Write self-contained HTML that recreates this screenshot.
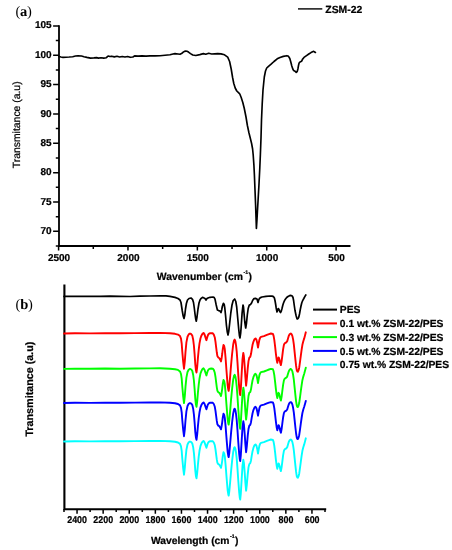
<!DOCTYPE html>
<html><head><meta charset="utf-8"><title>FTIR spectra</title>
<style>
html,body{margin:0;padding:0;background:#fff;}
svg{display:block;}
text{font-family:"Liberation Sans",Arial,sans-serif;font-weight:bold;fill:#000;stroke:#000;stroke-width:0.22px;text-rendering:geometricPrecision;}
.serif{font-family:"Liberation Serif","DejaVu Serif",serif;font-weight:normal;stroke:none;}
.reg{font-weight:normal;}
</style></head><body>
<svg width="452" height="550" viewBox="0 0 452 550">
<rect width="452" height="550" fill="#fff"/>

<g id="chartA">
<text class="serif" x="15.6" y="15.9" font-size="14.5" letter-spacing="-0.35">(<tspan font-weight="bold">a</tspan>)</text>
<path d="M59,25.3 V246 H350.5" fill="none" stroke="#000" stroke-width="1.8"/>
<path d="M59,231.35 h-5.9 M59,202.00 h-5.9 M59,172.65 h-5.9 M59,143.30 h-5.9 M59,113.95 h-5.9 M59,84.60 h-5.9 M59,55.25 h-5.9 M59,25.90 h-5.9 M59,246.03 h-3.2 M59,216.68 h-3.2 M59,187.32 h-3.2 M59,157.98 h-3.2 M59,128.62 h-3.2 M59,99.28 h-3.2 M59,69.92 h-3.2 M59,40.58 h-3.2 M336.10,246 v4.4 M266.73,246 v4.4 M197.35,246 v4.4 M127.97,246 v4.4 M58.60,246 v4.4 M301.41,246 v3 M232.04,246 v3 M162.66,246 v3 M93.29,246 v3 " fill="none" stroke="#000" stroke-width="1.5"/>
<text transform="translate(51.6,233.8) scale(1.0,1)" font-size="10" text-anchor="end">70</text>
<text transform="translate(51.6,204.5) scale(1.0,1)" font-size="10" text-anchor="end">75</text>
<text transform="translate(51.6,175.2) scale(1.0,1)" font-size="10" text-anchor="end">80</text>
<text transform="translate(51.6,145.8) scale(1.0,1)" font-size="10" text-anchor="end">85</text>
<text transform="translate(51.6,116.5) scale(1.0,1)" font-size="10" text-anchor="end">90</text>
<text transform="translate(51.6,87.1) scale(1.0,1)" font-size="10" text-anchor="end">95</text>
<text transform="translate(51.6,57.8) scale(1.0,1)" font-size="10" text-anchor="end">100</text>
<text transform="translate(51.6,28.4) scale(1.0,1)" font-size="10" text-anchor="end">105</text>
<text transform="translate(336.5,260.9) scale(1.0,1)" font-size="10" text-anchor="middle">500</text>
<text transform="translate(267.1,260.9) scale(1.0,1)" font-size="10" text-anchor="middle">1000</text>
<text transform="translate(197.8,260.9) scale(1.0,1)" font-size="10" text-anchor="middle">1500</text>
<text transform="translate(128.4,260.9) scale(1.0,1)" font-size="10" text-anchor="middle">2000</text>
<text transform="translate(59.0,260.9) scale(1.0,1)" font-size="10" text-anchor="middle">2500</text>
<text x="204.4" y="279.9" font-size="10.4" text-anchor="middle">Wavenumber (cm<tspan font-size="5.2" dy="-5.7" dx="0.5">-1</tspan><tspan dy="5.7" dx="0.4">)</tspan></text>
<text class="reg" transform="translate(20.0,124.8) rotate(-90)" font-size="10.4" stroke="#000" stroke-width="0.25" text-anchor="middle">Transmitance (a.u)</text>
<path d="M298,8.9 H322.3" stroke="#000" stroke-width="1.4" fill="none"/>
<text x="325.3" y="12.8" font-size="10.4">ZSM-22</text>
<path d="M59.0,56.5 L61.0,57.0 L63.0,57.4 L66.0,57.2 L69.2,57.0 L72.7,56.7 L75.5,56.0 L78.0,55.7 L81.5,56.0 L84.0,56.7 L86.9,57.4 L90.4,58.1 L93.9,57.9 L96.6,57.6 L98.4,58.1 L101.0,57.7 L103.7,58.1 L106.3,57.7 L107.2,56.8 L108.1,56.0 L109.9,56.5 L111.6,56.2 L114.3,56.9 L117.0,56.3 L119.6,57.0 L122.3,56.5 L124.9,57.0 L127.6,56.5 L130.2,57.3 L132.9,57.0 L134.6,55.9 L138.0,56.1 L142.0,55.9 L146.0,56.1 L150.0,55.9 L155.0,55.9 L160.0,55.7 L165.0,55.3 L170.0,54.8 L173.0,54.0 L175.0,53.6 L178.0,54.0 L180.0,54.3 L181.5,53.6 L183.0,52.3 L184.5,51.4 L185.8,51.1 L187.0,51.3 L188.5,52.1 L190.5,53.6 L192.8,55.0 L195.8,55.5 L199.8,54.6 L203.4,53.6 L205.8,54.2 L208.7,53.3 L211.7,54.0 L217.7,53.6 L221.0,53.9 L224.5,54.8 L227.7,57.2 L229.6,61.5 L231.2,69.0 L232.6,77.5 L233.8,83.5 L235.2,88.0 L236.8,91.0 L238.5,92.6 L239.8,94.0 L241.2,97.5 L242.8,102.5 L244.3,108.5 L246.0,117.0 L247.4,125.5 L249.0,133.0 L250.5,139.0 L251.6,143.5 L252.6,149.0 L253.2,155.0 L253.9,165.0 L254.4,175.0 L255.0,190.0 L255.6,205.0 L256.0,217.0 L256.4,228.5 L256.9,221.0 L257.4,212.0 L258.2,198.0 L259.0,184.0 L259.8,168.0 L260.4,154.0 L261.0,138.0 L261.5,120.0 L262.2,104.0 L263.0,90.0 L264.3,77.0 L265.5,71.0 L266.7,68.0 L268.5,66.3 L271.1,64.2 L274.0,61.5 L277.2,58.8 L280.0,57.5 L283.3,56.4 L286.9,55.7 L288.5,56.3 L289.8,58.5 L290.8,62.0 L291.8,66.0 L292.8,69.0 L293.7,70.6 L295.0,71.2 L296.2,72.3 L297.2,71.5 L297.9,69.0 L298.5,65.5 L299.1,63.0 L300.0,62.0 L301.5,61.3 L302.7,59.0 L304.0,57.4 L306.5,55.6 L308.8,54.0 L311.0,52.6 L313.7,51.3 L315.4,52.5" fill="none" stroke="#000" stroke-width="1.65" stroke-linejoin="round" stroke-linecap="round"/>
</g>
<g id="chartB">
<text class="serif" x="15.6" y="308.5" font-size="14.5" letter-spacing="-0.2">(<tspan font-weight="bold">b</tspan>)</text>
<path d="M64.4,284.5 V509.2 H326.2" fill="none" stroke="#000" stroke-width="2.1"/>
<path d="M311.95,509 v4.8 M285.85,509 v4.8 M259.75,509 v4.8 M233.65,509 v4.8 M207.55,509 v4.8 M181.45,509 v4.8 M155.35,509 v4.8 M129.25,509 v4.8 M103.15,509 v4.8 M77.05,509 v4.8 M325.00,509 v3.1 M298.90,509 v3.1 M272.80,509 v3.1 M246.70,509 v3.1 M220.60,509 v3.1 M194.50,509 v3.1 M168.40,509 v3.1 M142.30,509 v3.1 M116.20,509 v3.1 M90.10,509 v3.1 M64.00,509 v3.1 " fill="none" stroke="#000" stroke-width="1.5"/>
<text transform="translate(312.1,523.2) scale(0.9,1)" font-size="9.9" text-anchor="middle">600</text>
<text transform="translate(286.0,523.2) scale(0.9,1)" font-size="9.9" text-anchor="middle">800</text>
<text transform="translate(259.9,523.2) scale(0.9,1)" font-size="9.9" text-anchor="middle">1000</text>
<text transform="translate(233.8,523.2) scale(0.9,1)" font-size="9.9" text-anchor="middle">1200</text>
<text transform="translate(207.7,523.2) scale(0.9,1)" font-size="9.9" text-anchor="middle">1400</text>
<text transform="translate(181.5,523.2) scale(0.9,1)" font-size="9.9" text-anchor="middle">1600</text>
<text transform="translate(155.5,523.2) scale(0.9,1)" font-size="9.9" text-anchor="middle">1800</text>
<text transform="translate(129.3,523.2) scale(0.9,1)" font-size="9.9" text-anchor="middle">2000</text>
<text transform="translate(103.2,523.2) scale(0.9,1)" font-size="9.9" text-anchor="middle">2200</text>
<text transform="translate(77.1,523.2) scale(0.9,1)" font-size="9.9" text-anchor="middle">2400</text>
<text x="194.7" y="544.1" font-size="10.3" text-anchor="middle">Wavelength (cm<tspan font-size="5.2" dy="-5.7" dx="0.5">-1</tspan><tspan dy="5.7" dx="0.4">)</tspan></text>
<text transform="translate(33.4,389.1) rotate(-90)" font-size="10.75" text-anchor="middle">Transmitance (a.u)</text>
<path d="M64.0,296.4 L80.0,296.3 L100.0,296.4 L110.0,296.1 L120.0,296.3 L130.0,296.5 L140.0,296.2 L150.0,296.0 L160.0,295.8 L166.0,295.9 L170.0,296.4 L175.0,297.4 L178.0,298.5 L180.0,300.0 L181.0,302.5 L182.3,311.0 L183.2,316.0 L184.0,318.5 L184.8,315.0 L185.5,309.0 L186.4,303.5 L187.5,300.0 L189.0,298.5 L191.0,298.0 L192.5,299.3 L193.5,302.5 L194.3,308.0 L195.0,314.0 L195.7,319.0 L196.3,321.2 L197.0,317.0 L198.0,309.0 L199.0,303.0 L200.0,300.0 L201.2,298.3 L202.5,297.3 L205.0,298.5 L206.0,300.0 L207.0,298.6 L208.0,298.0 L210.0,297.3 L213.0,297.0 L214.2,297.6 L215.0,299.2 L216.2,305.0 L217.4,310.0 L218.6,310.6 L220.0,311.0 L221.0,312.5 L221.7,310.0 L222.3,306.5 L223.4,303.3 L224.2,304.5 L224.8,308.0 L225.6,316.0 L226.4,325.0 L227.2,331.5 L228.0,335.0 L228.8,331.0 L229.7,323.0 L230.8,313.0 L232.0,305.0 L233.2,300.5 L234.7,299.0 L235.8,301.5 L236.7,307.0 L237.7,318.0 L238.7,329.0 L239.4,335.5 L240.0,338.0 L240.7,333.0 L241.3,325.0 L242.1,313.0 L243.0,305.0 L243.5,307.0 L244.0,313.0 L244.8,322.0 L245.7,328.0 L246.5,323.0 L247.3,315.0 L248.2,308.5 L249.3,305.0 L250.5,304.6 L251.6,303.0 L252.6,300.5 L254.0,298.6 L255.5,298.4 L257.0,299.0 L258.0,302.5 L258.7,300.0 L259.4,298.5 L260.5,297.6 L262.0,297.0 L266.0,296.4 L270.0,296.0 L272.0,296.1 L273.5,296.6 L274.4,298.0 L275.0,300.5 L275.6,304.0 L276.2,308.0 L277.0,312.0 L277.7,310.3 L278.3,308.5 L278.9,309.3 L279.5,310.8 L280.5,312.6 L281.3,311.0 L282.0,308.5 L282.8,305.3 L283.5,303.0 L284.5,300.6 L285.5,299.0 L286.7,297.5 L288.0,296.5 L289.5,295.7 L291.0,295.4 L292.2,296.0 L293.0,297.5 L293.6,300.5 L294.2,305.0 L295.0,310.5 L296.0,315.2 L296.7,317.8 L297.2,319.0 L298.0,318.6 L298.8,317.0 L299.5,314.0 L300.2,310.0 L301.0,306.0 L301.8,302.8 L302.8,300.3 L303.8,298.5 L304.8,296.6 L305.8,295.0" fill="none" stroke="#000" stroke-width="1.7" stroke-linejoin="round" stroke-linecap="round"/>
<path d="M64.0,333.5 L75.0,333.3 L90.0,333.4 L105.0,333.1 L120.0,333.3 L135.0,333.1 L150.0,333.0 L160.0,332.9 L170.0,333.3 L175.0,333.8 L178.0,334.6 L180.0,336.1 L181.0,338.7 L181.7,343.5 L182.3,351.9 L183.2,362.0 L184.0,368.7 L184.8,361.5 L185.5,351.9 L186.4,342.4 L187.5,336.7 L188.7,334.4 L190.0,333.5 L191.3,334.2 L192.3,335.6 L193.2,339.8 L193.9,345.5 L194.6,354.1 L195.3,364.5 L195.9,370.0 L196.5,372.5 L197.2,366.8 L197.9,358.2 L198.7,349.8 L199.5,343.4 L200.5,338.2 L201.5,335.4 L202.5,333.7 L203.5,332.9 L204.5,334.4 L205.4,337.1 L206.4,340.2 L207.1,337.8 L207.8,335.4 L208.8,333.9 L209.8,333.3 L211.3,333.1 L212.8,333.3 L213.8,334.6 L214.8,337.5 L215.5,341.9 L216.2,347.6 L216.8,352.5 L217.4,356.1 L218.3,357.5 L219.4,358.2 L220.2,359.7 L221.0,361.4 L221.6,358.3 L222.2,354.0 L222.8,348.8 L223.5,344.9 L224.2,346.1 L224.8,349.3 L225.6,358.3 L226.4,369.5 L227.1,378.5 L227.7,385.7 L228.3,389.6 L228.7,390.9 L229.3,386.4 L230.1,377.2 L231.1,364.7 L232.1,354.0 L233.2,344.5 L234.1,340.3 L234.7,339.6 L235.4,341.4 L236.0,345.1 L236.7,351.4 L237.5,362.6 L238.3,375.1 L239.2,387.5 L239.8,393.3 L240.2,395.1 L240.8,389.1 L241.7,372.9 L242.5,359.4 L243.3,352.9 L243.9,356.2 L244.7,366.6 L245.4,377.4 L246.1,385.7 L246.8,379.5 L247.7,368.7 L248.5,361.1 L249.3,357.7 L250.3,356.8 L251.0,354.1 L251.7,349.6 L252.5,345.1 L253.4,341.8 L254.5,339.2 L255.5,338.4 L256.5,339.9 L257.3,343.4 L258.0,347.6 L258.7,343.4 L259.4,339.8 L260.2,337.7 L261.0,336.8 L263.9,336.1 L266.9,334.9 L269.0,334.1 L270.9,333.5 L272.9,333.9 L273.6,335.9 L274.3,339.8 L275.1,346.4 L275.9,353.8 L276.6,359.2 L277.3,362.7 L277.9,359.9 L278.5,357.4 L279.0,357.9 L279.5,359.7 L280.2,362.9 L280.9,365.1 L281.6,361.4 L282.3,355.8 L283.1,349.4 L283.9,344.9 L284.6,343.4 L285.4,342.8 L286.3,342.3 L287.2,341.2 L288.0,338.4 L288.8,335.8 L289.8,334.1 L290.8,333.5 L291.6,334.2 L292.4,336.1 L293.1,339.4 L293.8,344.1 L294.6,351.9 L295.4,359.7 L296.1,365.9 L296.8,370.3 L297.3,371.5 L297.8,371.7 L298.5,370.4 L299.2,367.7 L300.0,361.9 L300.8,355.8 L301.6,349.9 L302.4,344.8 L303.3,341.2 L304.2,338.4 L305.0,335.4 L305.8,332.3" fill="none" stroke="#ff0000" stroke-width="1.9" stroke-linejoin="round" stroke-linecap="round"/>
<path d="M64.0,368.9 L75.0,368.7 L90.0,368.8 L105.0,368.5 L120.0,368.7 L135.0,368.5 L150.0,368.4 L160.0,368.3 L170.0,368.7 L175.0,369.2 L178.0,369.9 L180.0,371.4 L181.0,374.0 L181.7,378.6 L182.3,386.7 L183.2,396.6 L184.0,403.1 L184.8,396.1 L185.5,386.7 L186.4,377.6 L187.5,372.0 L188.7,369.7 L190.0,368.9 L191.3,369.5 L192.3,371.0 L193.2,375.0 L193.9,380.5 L194.6,388.9 L195.3,399.0 L195.9,404.3 L196.5,406.8 L197.2,401.3 L197.9,392.9 L198.7,384.8 L199.5,378.5 L200.5,373.4 L201.5,370.8 L202.5,369.1 L203.5,368.3 L204.5,369.7 L205.4,372.4 L206.4,375.4 L207.1,373.0 L207.8,370.8 L208.8,369.3 L209.8,368.7 L211.3,368.5 L212.8,368.7 L213.8,369.9 L214.8,372.8 L215.5,377.0 L216.2,382.6 L216.8,387.3 L217.4,390.8 L218.3,392.2 L219.4,392.9 L220.2,394.4 L221.0,396.0 L221.6,393.0 L222.2,388.8 L222.8,383.7 L223.5,379.9 L224.2,381.2 L224.8,384.3 L225.6,393.0 L226.4,403.8 L227.1,412.6 L227.7,419.6 L228.3,423.4 L228.7,424.6 L229.3,420.3 L230.1,411.3 L231.1,399.2 L232.1,388.8 L233.2,379.6 L234.1,375.5 L234.7,374.8 L235.4,376.5 L236.0,380.1 L236.7,386.3 L237.5,397.1 L238.3,409.3 L239.2,421.3 L239.8,427.0 L240.2,428.8 L240.8,422.9 L241.7,407.2 L242.5,394.0 L243.3,387.8 L243.9,391.0 L244.7,401.0 L245.4,411.6 L246.1,419.6 L246.8,413.7 L247.7,403.3 L248.5,396.0 L249.3,392.7 L250.3,391.9 L251.0,389.3 L251.7,384.9 L252.5,380.5 L253.4,377.2 L254.5,374.6 L255.5,373.8 L256.5,375.3 L257.3,378.8 L258.0,383.0 L258.7,378.8 L259.4,375.2 L260.2,373.1 L261.0,372.2 L263.9,371.5 L266.9,370.3 L269.0,369.5 L270.9,368.9 L272.9,369.3 L273.6,371.3 L274.3,375.2 L275.1,381.8 L275.9,389.2 L276.6,394.6 L277.3,398.1 L277.9,395.3 L278.5,392.8 L279.0,393.3 L279.5,395.1 L280.2,398.3 L280.9,400.5 L281.6,396.8 L282.3,391.2 L283.1,384.8 L283.9,380.3 L284.6,378.8 L285.4,378.2 L286.3,377.7 L287.2,376.6 L288.0,373.8 L288.8,371.2 L289.8,369.5 L290.8,368.9 L291.6,369.6 L292.4,371.5 L293.1,374.8 L293.8,379.5 L294.6,387.3 L295.4,395.1 L296.1,401.3 L296.8,405.7 L297.3,406.9 L297.8,407.1 L298.5,405.8 L299.2,403.1 L300.0,397.3 L300.8,391.2 L301.6,385.3 L302.4,380.2 L303.3,376.6 L304.2,373.8 L305.0,370.8 L305.8,367.7" fill="none" stroke="#00ff00" stroke-width="1.9" stroke-linejoin="round" stroke-linecap="round"/>
<path d="M64.0,403.0 L75.0,402.8 L90.0,402.9 L105.0,402.6 L120.0,402.8 L135.0,402.6 L150.0,402.5 L160.0,402.4 L170.0,402.8 L175.0,403.3 L178.0,404.0 L180.0,405.4 L181.0,407.9 L181.7,412.4 L182.3,420.3 L183.2,429.9 L184.0,436.2 L184.8,429.4 L185.5,420.3 L186.4,411.4 L187.5,406.0 L188.7,403.8 L190.0,403.0 L191.3,403.6 L192.3,405.0 L193.2,408.9 L193.9,414.3 L194.6,422.4 L195.3,432.2 L195.9,437.4 L196.5,439.8 L197.2,434.4 L197.9,426.3 L198.7,418.4 L199.5,412.3 L200.5,407.4 L201.5,404.8 L202.5,403.2 L203.5,402.4 L204.5,403.8 L205.4,406.4 L206.4,409.3 L207.1,407.0 L207.8,404.8 L208.8,403.4 L209.8,402.8 L211.3,402.6 L212.8,402.8 L213.8,404.0 L214.8,406.8 L215.5,410.9 L216.2,416.3 L216.8,420.9 L217.4,424.3 L218.3,425.6 L219.4,426.3 L220.2,427.7 L221.0,429.3 L221.6,426.4 L222.2,422.3 L222.8,417.4 L223.5,413.7 L224.2,414.9 L224.8,417.9 L225.6,426.4 L226.4,436.9 L227.1,445.4 L227.7,452.2 L228.3,455.9 L228.7,457.1 L229.3,452.9 L230.1,444.2 L231.1,432.4 L232.1,422.3 L233.2,413.4 L234.1,409.4 L234.7,408.7 L235.4,410.4 L236.0,413.9 L236.7,419.9 L237.5,430.4 L238.3,442.2 L239.2,453.9 L239.8,459.4 L240.2,461.1 L240.8,455.4 L241.7,440.2 L242.5,427.4 L243.3,421.3 L243.9,424.4 L244.7,434.2 L245.4,444.4 L246.1,452.2 L246.8,446.4 L247.7,436.2 L248.5,429.0 L249.3,425.7 L250.3,424.8 L251.0,422.2 L251.7,417.8 L252.5,413.5 L253.4,410.1 L254.5,407.6 L255.5,406.8 L256.5,408.3 L257.3,411.7 L258.0,415.7 L258.7,411.7 L259.4,408.2 L260.2,406.1 L261.0,405.3 L263.9,404.6 L266.9,403.4 L269.0,402.6 L270.9,402.1 L272.9,402.4 L273.6,404.4 L274.3,408.2 L275.1,414.6 L275.9,421.7 L276.6,427.0 L277.3,430.4 L277.9,427.7 L278.5,425.2 L279.0,425.7 L279.5,427.5 L280.2,430.6 L280.9,432.7 L281.6,429.1 L282.3,423.7 L283.1,417.5 L283.9,413.1 L284.6,411.7 L285.4,411.1 L286.3,410.6 L287.2,409.5 L288.0,406.8 L288.8,404.3 L289.8,402.6 L290.8,402.1 L291.6,402.7 L292.4,404.6 L293.1,407.8 L293.8,412.3 L294.6,419.9 L295.4,427.5 L296.1,433.5 L296.8,437.7 L297.3,438.9 L297.8,439.1 L298.5,437.8 L299.2,435.2 L300.0,429.6 L300.8,423.7 L301.6,418.0 L302.4,413.0 L303.3,409.5 L304.2,406.8 L305.0,403.9 L305.8,400.9" fill="none" stroke="#0000ff" stroke-width="1.9" stroke-linejoin="round" stroke-linecap="round"/>
<path d="M64.0,441.5 L75.0,441.3 L90.0,441.4 L105.0,441.1 L120.0,441.3 L135.0,441.1 L150.0,441.0 L160.0,440.9 L170.0,441.3 L175.0,441.8 L178.0,442.5 L180.0,443.9 L181.0,446.4 L181.7,450.9 L182.3,458.8 L183.2,468.4 L184.0,474.7 L184.8,467.9 L185.5,458.8 L186.4,449.9 L187.5,444.5 L188.7,442.3 L190.0,441.5 L191.3,442.1 L192.3,443.5 L193.2,447.4 L193.9,452.8 L194.6,460.9 L195.3,470.7 L195.9,475.9 L196.5,478.3 L197.2,472.9 L197.9,464.8 L198.7,456.9 L199.5,450.8 L200.5,445.9 L201.5,443.3 L202.5,441.7 L203.5,440.9 L204.5,442.3 L205.4,444.9 L206.4,447.8 L207.1,445.5 L207.8,443.3 L208.8,441.9 L209.8,441.3 L211.3,441.1 L212.8,441.3 L213.8,442.5 L214.8,445.3 L215.5,449.4 L216.2,454.8 L216.8,459.4 L217.4,462.8 L218.3,464.1 L219.4,464.8 L220.2,466.2 L221.0,467.8 L221.6,464.9 L222.2,460.8 L222.8,455.9 L223.5,452.2 L224.2,453.4 L224.8,456.4 L225.6,464.9 L226.4,475.4 L227.1,483.9 L227.7,490.7 L228.3,494.4 L228.7,495.6 L229.3,491.4 L230.1,482.7 L231.1,470.9 L232.1,460.8 L233.2,451.9 L234.1,447.9 L234.7,447.2 L235.4,448.9 L236.0,452.4 L236.7,458.4 L237.5,468.9 L238.3,480.7 L239.2,492.4 L239.8,497.9 L240.2,499.6 L240.8,493.9 L241.7,478.7 L242.5,465.9 L243.3,459.8 L243.9,462.9 L244.7,472.7 L245.4,482.9 L246.1,490.7 L246.8,484.9 L247.7,474.7 L248.5,467.4 L249.3,464.1 L250.3,463.1 L251.0,460.4 L251.7,455.9 L252.5,451.4 L253.4,447.9 L254.5,445.2 L255.5,444.4 L256.5,445.9 L257.3,449.4 L258.0,453.6 L258.7,449.4 L259.4,445.8 L260.2,443.7 L261.0,442.8 L263.9,442.1 L266.9,440.9 L269.0,440.1 L270.9,439.5 L272.9,439.9 L273.6,441.9 L274.3,445.8 L275.1,452.4 L275.9,459.8 L276.6,465.2 L277.3,468.7 L277.9,465.9 L278.5,463.4 L279.0,463.9 L279.5,465.7 L280.2,468.9 L280.9,471.1 L281.6,467.4 L282.3,461.8 L283.1,455.4 L283.9,450.9 L284.6,449.4 L285.4,448.8 L286.3,448.3 L287.2,447.2 L288.0,444.4 L288.8,441.8 L289.8,440.1 L290.8,439.5 L291.6,440.2 L292.4,442.1 L293.1,445.4 L293.8,450.1 L294.6,457.9 L295.4,465.7 L296.1,471.9 L296.8,476.3 L297.3,477.5 L297.8,477.7 L298.5,476.4 L299.2,473.7 L300.0,467.9 L300.8,461.8 L301.6,455.9 L302.4,450.8 L303.3,447.2 L304.2,444.4 L305.0,441.4 L305.8,438.3" fill="none" stroke="#00ffff" stroke-width="1.9" stroke-linejoin="round" stroke-linecap="round"/>
<path d="M313,309.6 H337" stroke="#000000" stroke-width="2" fill="none"/>
<text x="339.8" y="313.4" font-size="10.3">PES</text>
<path d="M313,323.4 H337" stroke="#ff0000" stroke-width="2" fill="none"/>
<text x="339.8" y="327.2" font-size="10.3">0.1 wt.% ZSM-22/PES</text>
<path d="M313,337.1 H337" stroke="#00ff00" stroke-width="2" fill="none"/>
<text x="339.8" y="340.9" font-size="10.3">0.3 wt.% ZSM-22/PES</text>
<path d="M313,350.9 H337" stroke="#0000ff" stroke-width="2" fill="none"/>
<text x="339.8" y="354.7" font-size="10.3">0.5 wt.% ZSM-22/PES</text>
<path d="M313,364.6 H337" stroke="#00ffff" stroke-width="2" fill="none"/>
<text x="339.8" y="368.4" font-size="10.3">0.75 wt.% ZSM-22/PES</text>
</g>
</svg></body></html>
